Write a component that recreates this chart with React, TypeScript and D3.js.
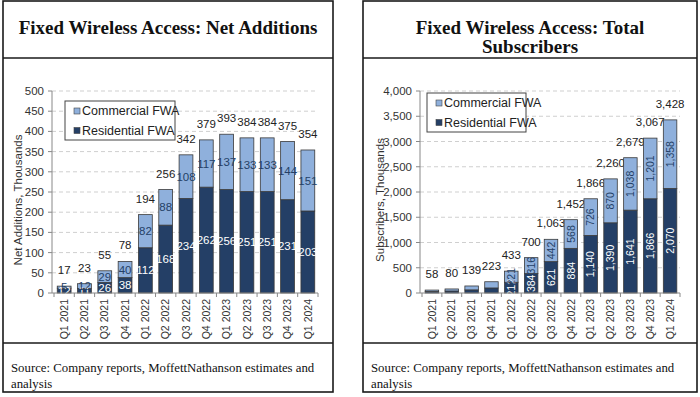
import React from "react";
import * as d3 from "d3";

// quarters shown on both charts
const quarters = [
  "Q1 2021", "Q2 2021", "Q3 2021", "Q4 2021",
  "Q1 2022", "Q2 2022", "Q3 2022", "Q4 2022",
  "Q1 2023", "Q2 2023", "Q3 2023", "Q4 2023",
  "Q1 2024",
];

// net additions, thousands
const netResidential = [12, 11, 26, 38, 112, 168, 234, 262, 256, 251, 251, 231, 203];
const netCommercial = [5, 12, 29, 40, 82, 88, 108, 117, 137, 133, 133, 144, 151];

// total subscribers, thousands
const subsResidential = [30, 40, 62, 100, 212, 384, 621, 884, 1140, 1390, 1641, 1866, 2070];
const subsCommercial = [28, 40, 77, 123, 221, 316, 442, 568, 726, 870, 1038, 1201, 1358];

const seriesNames = ["Commercial FWA", "Residential FWA"];

const DARK = "#243f66";
const LIGHT = "#8fb0dc";
const SANS = "'Liberation Sans', Arial, sans-serif";
const SERIF = "'Liberation Serif', 'DejaVu Serif', serif";

type PanelProps = {
  left: number;
  right: number;
  titleLines: string[];
  plotLeft: number;
  plotRight: number;
  yMax: number;
  tickCount: number;
  yLabel: string;
  yLabelX: number;
  residential: number[];
  commercial: number[];
  legendX: number;
  legendY: number;
  legendW: number;
  rotated: boolean;
  labelFrom: number;
};

const Panel = (p: PanelProps) => {
  const top = 1, bottom = 392, titleSep = 58, sourceSep = 343;
  const x = d3.scaleBand<string>().domain(quarters).range([p.plotLeft + 2, p.plotRight]).paddingInner(0.32).paddingOuter(0.16);
  const y = d3.scaleLinear().domain([0, p.yMax]).range([293, 91]);
  const ticks = y.ticks(p.tickCount);
  const fmt = d3.format(",");
  const bw = x.bandwidth();

  return (
    <g>
      <rect x={p.left} y={top} width={p.right - p.left} height={bottom - top} fill="#fff" stroke="#1a1a1a" strokeWidth={1.6} />
      <line x1={p.left} x2={p.right} y1={titleSep} y2={titleSep} stroke="#1a1a1a" strokeWidth={1.6} />
      <line x1={p.left} x2={p.right} y1={sourceSep} y2={sourceSep} stroke="#1a1a1a" strokeWidth={1.6} />
      {p.titleLines.map((t, i) => (
        <text key={t} x={(p.left + p.right) / 2} y={34 + i * 19} textAnchor="middle" fontFamily={SERIF} fontWeight="bold" fontSize={19} fill="#111">
          {t}
        </text>
      ))}

      {/* grid + y axis */}
      {ticks.map((t) => (
        <g key={t}>
          {t > 0 && (
            <line x1={p.plotLeft} x2={p.plotRight} y1={y(t)} y2={y(t)} stroke="#cfcfcf" strokeDasharray="4,3" />
          )}
          <line x1={p.plotLeft - 4} x2={p.plotLeft} y1={y(t)} y2={y(t)} stroke="#888" />
          <text x={p.plotLeft - 8} y={y(t)} dy="0.35em" textAnchor="end" fontFamily={SANS} fontSize={11.5} fill="#333">
            {fmt(t)}
          </text>
        </g>
      ))}
      <line x1={p.plotLeft} x2={p.plotLeft} y1={y(p.yMax)} y2={y(0)} stroke="#888" />
      <text transform={`translate(${p.yLabelX},${(y(0) + y(p.yMax)) / 2 + 8}) rotate(-90)`} textAnchor="middle" fontFamily={SANS} fontSize={11.5} fill="#333">
        {p.yLabel}
      </text>

      {/* bars */}
      {quarters.map((q, i) => {
        const r = p.residential[i];
        const c = p.commercial[i];
        const x0 = x(q)!;
        const cx = x0 + bw / 2;
        const total = d3.sum([r, c]);
        const rMid = (y(0) + y(r)) / 2;
        const cMid = (y(r) + y(total)) / 2;
        return (
          <g key={q}>
            <rect x={x0} y={y(r)} width={bw} height={y(0) - y(r)} fill={DARK} stroke="#3a3a3a" strokeWidth={0.8} />
            <rect x={x0} y={y(total)} width={bw} height={y(r) - y(total)} fill={LIGHT} stroke="#3a3a3a" strokeWidth={0.8} />
            {i >= p.labelFrom && (p.rotated ? (
              <>
                <text transform={`translate(${cx},${rMid}) rotate(-90)`} dy="0.35em" textAnchor="middle" fontFamily={SANS} fontSize={10.5} fill="#fff">{fmt(r)}</text>
                <text transform={`translate(${cx},${cMid}) rotate(-90)`} dy="0.35em" textAnchor="middle" fontFamily={SANS} fontSize={10.5} fill={DARK}>{fmt(c)}</text>
              </>
            ) : (
              <>
                <text x={cx} y={rMid} dy="0.35em" textAnchor="middle" fontFamily={SANS} fontSize={11.5} fill="#fff">{fmt(r)}</text>
                <text x={cx} y={cMid} dy="0.35em" textAnchor="middle" fontFamily={SANS} fontSize={11.5} fill={DARK}>{fmt(c)}</text>
              </>
            ))}
            <text x={cx} y={y(total) - 12} textAnchor="middle" fontFamily={SANS} fontSize={11.5} fill="#222">
              {fmt(total)}
            </text>
            <text transform={`translate(${cx},${299}) rotate(-90)`} dy="0.35em" textAnchor="end" fontFamily={SANS} fontSize={10.5} fill="#333">
              {q}
            </text>
          </g>
        );
      })}

      {/* x axis */}
      <line x1={p.plotLeft} x2={p.plotRight} y1={y(0)} y2={y(0)} stroke="#888" />
      {quarters.map((q) => {
        const bx = x(q)! - (x.step() - bw) / 2;
        return <line key={`t${q}`} x1={bx} x2={bx} y1={y(0)} y2={y(0) + 4} stroke="#888" />;
      })}
      <line x1={p.plotRight} x2={p.plotRight} y1={y(0)} y2={y(0) + 4} stroke="#888" />

      {/* legend */}
      <rect x={p.legendX} y={p.legendY} width={p.legendW} height={39} fill="#fff" stroke="#444" strokeWidth={1} />
      {seriesNames.map((s, i) => (
        <g key={s}>
          <rect x={p.legendX + 9} y={p.legendY + 7 + i * 19.5} width={6} height={6} fill={i === 0 ? LIGHT : DARK} stroke="#444" strokeWidth={0.6} />
          <text x={p.legendX + 17} y={p.legendY + 10 + i * 19.5} dy="0.35em" fontFamily={SANS} fontSize={12.5} fill="#222">
            {s}
          </text>
        </g>
      ))}

      <text x={p.left + 8} y={372} fontFamily={SERIF} fontSize={12.8} fill="#111">
        Source: Company reports, MoffettNathanson estimates and
      </text>
      <text x={p.left + 8} y={388} fontFamily={SERIF} fontSize={12.8} fill="#111">
        analysis
      </text>
    </g>
  );
};

export default function App() {
  return (
    <div style={{ position: "absolute", left: 0, top: 0 }}>
      <svg width={700} height={397} style={{ display: "block", background: "#fff" }}>
        <Panel
          left={3} right={333}
          titleLines={["Fixed Wireless Access: Net Additions"]}
          plotLeft={52} plotRight={318}
          yMax={500} tickCount={10}
          yLabel="Net Additions, Thousands" yLabelX={22}
          residential={netResidential} commercial={netCommercial}
          legendX={65} legendY={101} legendW={110}
          rotated={false} labelFrom={0}
        />
        <Panel
          left={363} right={697}
          titleLines={["Fixed Wireless Access: Total", "Subscribers"]}
          plotLeft={420} plotRight={680}
          yMax={4000} tickCount={8}
          yLabel="Subscribers, Thousands" yLabelX={384}
          residential={subsResidential} commercial={subsCommercial}
          legendX={427} legendY={93} legendW={99}
          rotated={true} labelFrom={4}
        />
      </svg>
    </div>
  );
}
